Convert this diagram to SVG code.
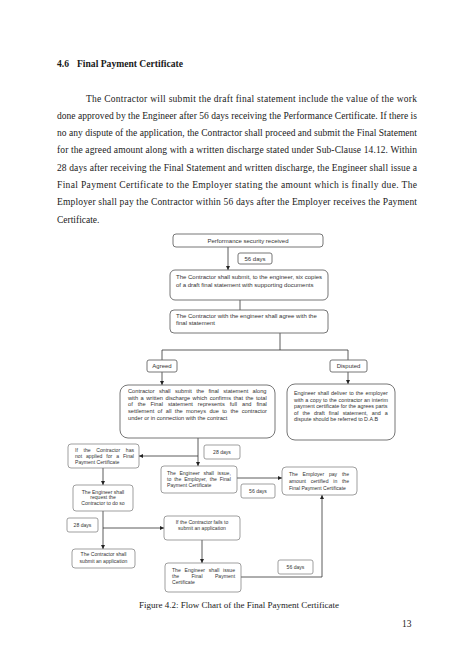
<svg xmlns="http://www.w3.org/2000/svg" width="474" height="670" viewBox="0 0 474 670">
<defs>
<marker id="ah" viewBox="0 0 6 6" refX="6" refY="3" markerWidth="4" markerHeight="4" orient="auto" markerUnits="userSpaceOnUse">
<path d="M0,0 L6,3 L0,6 z" fill="#222"/>
</marker>
</defs>
<style>
.body{font-family:"Liberation Serif","Times New Roman",serif;font-size:9.5px;fill:#1a1a1a}
.head{font-family:"Liberation Serif","Times New Roman",serif;font-size:9.6px;font-weight:bold;fill:#1a1a1a}
.box{fill:#fff;stroke:#666;stroke-width:0.9}
.box2{fill:#fff;stroke:#777;stroke-width:0.7}
.t{font-family:"Liberation Sans",Arial,sans-serif;font-size:6px;fill:#333}
.tm{font-family:"Liberation Sans",Arial,sans-serif;font-size:5.7px;fill:#333}
.tr{font-family:"Liberation Sans",Arial,sans-serif;font-size:5.4px;fill:#333}
.ts{font-family:"Liberation Sans",Arial,sans-serif;font-size:5.1px;fill:#333}
.c{text-anchor:middle}
.ln{fill:none;stroke:#333;stroke-width:0.8}
</style>
<rect width="474" height="670" fill="#fff"/>

<text class="head" x="57" y="66.5">4.6<tspan x="77">Final Payment Certificate</tspan></text>
<g class="body">
<text x="86" y="101.5" textLength="331" lengthAdjust="spacing">The Contractor will submit the draft final statement include the value of the work</text>
<text x="57" y="119" textLength="360" lengthAdjust="spacing">done approved by the Engineer after 56 days receiving the Performance Certificate. If there is</text>
<text x="57" y="136" textLength="360" lengthAdjust="spacing">no any dispute of the application, the Contractor shall proceed and submit the Final Statement</text>
<text x="57" y="153" textLength="360" lengthAdjust="spacing">for the agreed amount along with a written discharge stated under Sub-Clause 14.12. Within</text>
<text x="57" y="170.5" textLength="360" lengthAdjust="spacing">28 days after receiving the Final Statement and written discharge, the Engineer shall issue a</text>
<text x="57" y="188" textLength="360" lengthAdjust="spacing">Final Payment Certificate to the Employer stating the amount which is finally due. The</text>
<text x="57" y="205" textLength="360" lengthAdjust="spacing">Employer shall pay the Contractor within 56 days after the Employer receives the Payment</text>
<text x="57" y="222.5">Certificate.</text>
</g>

<g id="connectors">
<line class="ln" x1="228" y1="247" x2="228" y2="270" marker-end="url(#ah)"/>
<line class="ln" x1="240" y1="300" x2="240" y2="310"/>
<line class="ln" x1="280" y1="333" x2="280" y2="350"/>
<polyline class="ln" points="162,360 162,350 348,350 348,360"/>
<line class="ln" x1="162" y1="372" x2="162" y2="385" marker-end="url(#ah)"/>
<line class="ln" x1="348" y1="372" x2="348" y2="384" marker-end="url(#ah)"/>
<line class="ln" x1="198" y1="438" x2="198" y2="466" marker-end="url(#ah)"/>
<line class="ln" x1="198" y1="456" x2="139" y2="456" marker-end="url(#ah)"/>
<line class="ln" x1="103" y1="468" x2="103" y2="485" marker-end="url(#ah)"/>
<line class="ln" x1="103" y1="511" x2="103" y2="549" marker-end="url(#ah)"/>
<line class="ln" x1="103" y1="528" x2="164" y2="528" marker-end="url(#ah)"/>
<line class="ln" x1="202" y1="540" x2="202" y2="563" marker-end="url(#ah)"/>
<line class="ln" x1="237" y1="478" x2="282" y2="478" marker-end="url(#ah)"/>
<polyline class="ln" points="241,577 322,577 322,495" marker-end="url(#ah)"/>
</g>

<g id="n-perf">
<rect class="box" x="173" y="234" width="150" height="13" rx="3"/>
<text class="t c" x="248" y="242.7">Performance security received</text>
</g>
<g id="n-56a">
<rect class="box" x="238" y="253" width="34" height="11" rx="2"/>
<text class="t c" x="255" y="260.7">56 days</text>
</g>
<g id="n-submit">
<rect class="box" x="170" y="270" width="158" height="30" rx="5"/>
<text class="t" x="176" y="279.2">The Contractor shall submit, to the engineer, six copies</text>
<text class="t" x="176" y="286.5">of a draft final statement with supporting documents</text>
</g>
<g id="n-agree">
<rect class="box" x="170" y="310" width="158" height="23" rx="4"/>
<text class="t" x="176" y="317.5">The Contractor with the engineer shall agree with the</text>
<text class="t" x="176" y="324.5">final statement</text>
</g>
<g id="n-agreed">
<rect class="box" x="147" y="360" width="30" height="12" rx="2"/>
<text class="t c" x="162" y="368">Agreed</text>
</g>
<g id="n-disputed">
<rect class="box" x="330" y="360" width="37" height="12" rx="2"/>
<text class="t c" x="348.5" y="368">Disputed</text>
</g>
<g id="n-final">
<rect class="box" x="120" y="385" width="155" height="53" rx="8"/>
<text class="tm" x="128" y="393" word-spacing="2.8">Contractor shall submit the final statement along</text>
<text class="tm" x="128" y="399.7" word-spacing="0.9">with a written discharge which confirms that the total</text>
<text class="tm" x="128" y="406.4" word-spacing="3.4">of the Final statement represents full and final</text>
<text class="tm" x="128" y="413.1" word-spacing="1.8">settlement of all the moneys due to the contractor</text>
<text class="tm" x="128" y="419.8">under or in connection with the contract</text>
</g>
<g id="n-dispute">
<rect class="box" x="287" y="384" width="108" height="56" rx="8"/>
<text class="tr" x="294" y="395" word-spacing="0.7">Engineer shall deliver to the employer</text>
<text class="tr" x="294" y="401.5" word-spacing="0.2">with a copy to the contractor an interim</text>
<text class="tr" x="294" y="408">payment certificate for the agrees parts</text>
<text class="tr" x="294" y="414.5" word-spacing="2.5">of the draft final statement, and a</text>
<text class="tr" x="294" y="421">dispute should be referred to D.A.B</text>
</g>
<g id="n-28a">
<rect class="box2" x="204" y="445" width="36" height="14" rx="2"/>
<text class="ts c" x="222" y="453.7">28 days</text>
</g>
<g id="n-notapplied">
<rect class="box2" x="68" y="444" width="71" height="24" rx="3"/>
<text class="ts" x="75" y="451.5" word-spacing="4.3">If the Contractor has</text>
<text class="ts" x="75" y="457.5" word-spacing="2.5">not applied for a Final</text>
<text class="ts" x="75" y="463.5">Payment Certificate</text>
</g>
<g id="n-request">
<rect class="box2" x="73" y="485" width="60" height="26" rx="3"/>
<text class="ts c" x="103" y="493.5">The Engineer shall</text>
<text class="ts c" x="103" y="499.3">request the</text>
<text class="ts c" x="103" y="505.1">Contractor to do so</text>
</g>
<g id="n-28b">
<rect class="box2" x="67" y="518" width="31" height="14" rx="2"/>
<text class="ts c" x="82.5" y="526.7">28 days</text>
</g>
<g id="n-csubmit">
<rect class="box2" x="72" y="549" width="63" height="19" rx="3"/>
<text class="ts c" x="103.5" y="556.3">The Contractor shall</text>
<text class="ts c" x="103.5" y="562.6">submit an application</text>
</g>
<g id="n-issue">
<rect class="box2" x="161" y="466" width="76" height="27" rx="3"/>
<text class="ts" x="167" y="474.5" word-spacing="2.2">The Engineer shall issue,</text>
<text class="ts" x="167" y="480.5" word-spacing="1.5">to the Employer, the Final</text>
<text class="ts" x="167" y="486.5">Payment Certificate</text>
</g>
<g id="n-pay">
<rect class="box2" x="282" y="467" width="75" height="28" rx="4"/>
<text class="ts" x="289" y="475.5" word-spacing="3.4">The Employer pay the</text>
<text class="ts" x="289" y="482.5" word-spacing="3.3">amount certified in the</text>
<text class="ts" x="289" y="489.5">Final Payment Certificate</text>
</g>
<g id="n-56b">
<rect class="box2" x="241" y="484" width="34" height="14" rx="2"/>
<text class="ts c" x="258" y="492.7">56 days</text>
</g>
<g id="n-fails">
<rect class="box2" x="164" y="516" width="76" height="24" rx="3"/>
<text class="ts c" x="202" y="523.5">If the Contractor fails to</text>
<text class="ts c" x="202" y="529.5">submit an application</text>
</g>
<g id="n-issue2">
<rect class="box2" x="165" y="563" width="76" height="29" rx="3"/>
<text class="ts" x="172" y="571.5" word-spacing="2.4">The Engineer shall issue</text>
<text class="ts" x="172" y="577.5" word-spacing="11">the Final Payment</text>
<text class="ts" x="172" y="583.5">Certificate</text>
</g>
<g id="n-56c">
<rect class="box2" x="278" y="560" width="35" height="14" rx="2"/>
<text class="ts c" x="295.5" y="568.7">56 days</text>
</g>

<text class="body c" x="239" y="608" style="font-size:9px">Figure 4.2: Flow Chart of the Final Payment Certificate</text>
<text class="body" x="402" y="627">13</text>
</svg>
